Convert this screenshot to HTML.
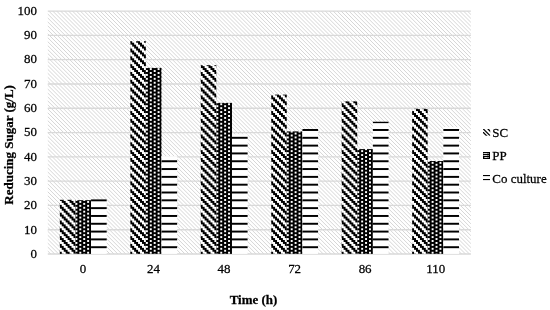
<!DOCTYPE html>
<html><head><meta charset="utf-8"><style>
html,body{margin:0;padding:0;background:#fff;width:550px;height:310px;overflow:hidden}
svg{display:block}
text{font-family:"Liberation Serif","Times New Roman",serif;font-size:13.3px;fill:#000;stroke:#000;stroke-width:0.25px}
</style></head><body>
<svg width="550" height="310" viewBox="0 0 550 310">
<defs>
<pattern id="pSC" patternUnits="userSpaceOnUse" x="0" y="0" width="4" height="4">
<rect width="4" height="4" fill="#fff"/>
<path d="M0 0h1v1h-1zM1 0h1v1h-1zM1 1h1v1h-1zM2 1h1v1h-1zM2 2h1v1h-1zM3 2h1v1h-1zM3 3h1v1h-1zM0 3h1v1h-1z" fill="#000"/>
</pattern>
<pattern id="pPP" patternUnits="userSpaceOnUse" x="0" y="0" width="4" height="2">
<rect width="4" height="2" fill="#000"/>
<path d="M0 0h1v1h-1zM2 1h1v1h-1z" fill="#fff"/>
</pattern>
<pattern id="pCO" patternUnits="userSpaceOnUse" x="0" y="0" width="4" height="4">
<rect width="4" height="4" fill="#fff"/>
<rect width="4" height="1" fill="#000"/>
</pattern>
</defs>
<clipPath id="cpl"><rect x="47.8" y="11.1" width="423.10" height="242.90"/></clipPath>
<g clip-path="url(#cpl)" stroke="#d1d1d1" stroke-width="0.9"><line x1="-197.10" y1="10.10" x2="47.80" y2="255.00"/><line x1="-193.15" y1="10.10" x2="51.75" y2="255.00"/><line x1="-189.20" y1="10.10" x2="55.70" y2="255.00"/><line x1="-185.25" y1="10.10" x2="59.65" y2="255.00"/><line x1="-181.30" y1="10.10" x2="63.60" y2="255.00"/><line x1="-177.35" y1="10.10" x2="67.55" y2="255.00"/><line x1="-173.40" y1="10.10" x2="71.50" y2="255.00"/><line x1="-169.45" y1="10.10" x2="75.45" y2="255.00"/><line x1="-165.50" y1="10.10" x2="79.40" y2="255.00"/><line x1="-161.55" y1="10.10" x2="83.35" y2="255.00"/><line x1="-157.60" y1="10.10" x2="87.30" y2="255.00"/><line x1="-153.65" y1="10.10" x2="91.25" y2="255.00"/><line x1="-149.70" y1="10.10" x2="95.20" y2="255.00"/><line x1="-145.75" y1="10.10" x2="99.15" y2="255.00"/><line x1="-141.80" y1="10.10" x2="103.10" y2="255.00"/><line x1="-137.85" y1="10.10" x2="107.05" y2="255.00"/><line x1="-133.90" y1="10.10" x2="111.00" y2="255.00"/><line x1="-129.95" y1="10.10" x2="114.95" y2="255.00"/><line x1="-126.00" y1="10.10" x2="118.90" y2="255.00"/><line x1="-122.05" y1="10.10" x2="122.85" y2="255.00"/><line x1="-118.10" y1="10.10" x2="126.80" y2="255.00"/><line x1="-114.15" y1="10.10" x2="130.75" y2="255.00"/><line x1="-110.20" y1="10.10" x2="134.70" y2="255.00"/><line x1="-106.25" y1="10.10" x2="138.65" y2="255.00"/><line x1="-102.30" y1="10.10" x2="142.60" y2="255.00"/><line x1="-98.35" y1="10.10" x2="146.55" y2="255.00"/><line x1="-94.40" y1="10.10" x2="150.50" y2="255.00"/><line x1="-90.45" y1="10.10" x2="154.45" y2="255.00"/><line x1="-86.50" y1="10.10" x2="158.40" y2="255.00"/><line x1="-82.55" y1="10.10" x2="162.35" y2="255.00"/><line x1="-78.60" y1="10.10" x2="166.30" y2="255.00"/><line x1="-74.65" y1="10.10" x2="170.25" y2="255.00"/><line x1="-70.70" y1="10.10" x2="174.20" y2="255.00"/><line x1="-66.75" y1="10.10" x2="178.15" y2="255.00"/><line x1="-62.80" y1="10.10" x2="182.10" y2="255.00"/><line x1="-58.85" y1="10.10" x2="186.05" y2="255.00"/><line x1="-54.90" y1="10.10" x2="190.00" y2="255.00"/><line x1="-50.95" y1="10.10" x2="193.95" y2="255.00"/><line x1="-47.00" y1="10.10" x2="197.90" y2="255.00"/><line x1="-43.05" y1="10.10" x2="201.85" y2="255.00"/><line x1="-39.10" y1="10.10" x2="205.80" y2="255.00"/><line x1="-35.15" y1="10.10" x2="209.75" y2="255.00"/><line x1="-31.20" y1="10.10" x2="213.70" y2="255.00"/><line x1="-27.25" y1="10.10" x2="217.65" y2="255.00"/><line x1="-23.30" y1="10.10" x2="221.60" y2="255.00"/><line x1="-19.35" y1="10.10" x2="225.55" y2="255.00"/><line x1="-15.40" y1="10.10" x2="229.50" y2="255.00"/><line x1="-11.45" y1="10.10" x2="233.45" y2="255.00"/><line x1="-7.50" y1="10.10" x2="237.40" y2="255.00"/><line x1="-3.55" y1="10.10" x2="241.35" y2="255.00"/><line x1="0.40" y1="10.10" x2="245.30" y2="255.00"/><line x1="4.35" y1="10.10" x2="249.25" y2="255.00"/><line x1="8.30" y1="10.10" x2="253.20" y2="255.00"/><line x1="12.25" y1="10.10" x2="257.15" y2="255.00"/><line x1="16.20" y1="10.10" x2="261.10" y2="255.00"/><line x1="20.15" y1="10.10" x2="265.05" y2="255.00"/><line x1="24.10" y1="10.10" x2="269.00" y2="255.00"/><line x1="28.05" y1="10.10" x2="272.95" y2="255.00"/><line x1="32.00" y1="10.10" x2="276.90" y2="255.00"/><line x1="35.95" y1="10.10" x2="280.85" y2="255.00"/><line x1="39.90" y1="10.10" x2="284.80" y2="255.00"/><line x1="43.85" y1="10.10" x2="288.75" y2="255.00"/><line x1="47.80" y1="10.10" x2="292.70" y2="255.00"/><line x1="51.75" y1="10.10" x2="296.65" y2="255.00"/><line x1="55.70" y1="10.10" x2="300.60" y2="255.00"/><line x1="59.65" y1="10.10" x2="304.55" y2="255.00"/><line x1="63.60" y1="10.10" x2="308.50" y2="255.00"/><line x1="67.55" y1="10.10" x2="312.45" y2="255.00"/><line x1="71.50" y1="10.10" x2="316.40" y2="255.00"/><line x1="75.45" y1="10.10" x2="320.35" y2="255.00"/><line x1="79.40" y1="10.10" x2="324.30" y2="255.00"/><line x1="83.35" y1="10.10" x2="328.25" y2="255.00"/><line x1="87.30" y1="10.10" x2="332.20" y2="255.00"/><line x1="91.25" y1="10.10" x2="336.15" y2="255.00"/><line x1="95.20" y1="10.10" x2="340.10" y2="255.00"/><line x1="99.15" y1="10.10" x2="344.05" y2="255.00"/><line x1="103.10" y1="10.10" x2="348.00" y2="255.00"/><line x1="107.05" y1="10.10" x2="351.95" y2="255.00"/><line x1="111.00" y1="10.10" x2="355.90" y2="255.00"/><line x1="114.95" y1="10.10" x2="359.85" y2="255.00"/><line x1="118.90" y1="10.10" x2="363.80" y2="255.00"/><line x1="122.85" y1="10.10" x2="367.75" y2="255.00"/><line x1="126.80" y1="10.10" x2="371.70" y2="255.00"/><line x1="130.75" y1="10.10" x2="375.65" y2="255.00"/><line x1="134.70" y1="10.10" x2="379.60" y2="255.00"/><line x1="138.65" y1="10.10" x2="383.55" y2="255.00"/><line x1="142.60" y1="10.10" x2="387.50" y2="255.00"/><line x1="146.55" y1="10.10" x2="391.45" y2="255.00"/><line x1="150.50" y1="10.10" x2="395.40" y2="255.00"/><line x1="154.45" y1="10.10" x2="399.35" y2="255.00"/><line x1="158.40" y1="10.10" x2="403.30" y2="255.00"/><line x1="162.35" y1="10.10" x2="407.25" y2="255.00"/><line x1="166.30" y1="10.10" x2="411.20" y2="255.00"/><line x1="170.25" y1="10.10" x2="415.15" y2="255.00"/><line x1="174.20" y1="10.10" x2="419.10" y2="255.00"/><line x1="178.15" y1="10.10" x2="423.05" y2="255.00"/><line x1="182.10" y1="10.10" x2="427.00" y2="255.00"/><line x1="186.05" y1="10.10" x2="430.95" y2="255.00"/><line x1="190.00" y1="10.10" x2="434.90" y2="255.00"/><line x1="193.95" y1="10.10" x2="438.85" y2="255.00"/><line x1="197.90" y1="10.10" x2="442.80" y2="255.00"/><line x1="201.85" y1="10.10" x2="446.75" y2="255.00"/><line x1="205.80" y1="10.10" x2="450.70" y2="255.00"/><line x1="209.75" y1="10.10" x2="454.65" y2="255.00"/><line x1="213.70" y1="10.10" x2="458.60" y2="255.00"/><line x1="217.65" y1="10.10" x2="462.55" y2="255.00"/><line x1="221.60" y1="10.10" x2="466.50" y2="255.00"/><line x1="225.55" y1="10.10" x2="470.45" y2="255.00"/><line x1="229.50" y1="10.10" x2="474.40" y2="255.00"/><line x1="233.45" y1="10.10" x2="478.35" y2="255.00"/><line x1="237.40" y1="10.10" x2="482.30" y2="255.00"/><line x1="241.35" y1="10.10" x2="486.25" y2="255.00"/><line x1="245.30" y1="10.10" x2="490.20" y2="255.00"/><line x1="249.25" y1="10.10" x2="494.15" y2="255.00"/><line x1="253.20" y1="10.10" x2="498.10" y2="255.00"/><line x1="257.15" y1="10.10" x2="502.05" y2="255.00"/><line x1="261.10" y1="10.10" x2="506.00" y2="255.00"/><line x1="265.05" y1="10.10" x2="509.95" y2="255.00"/><line x1="269.00" y1="10.10" x2="513.90" y2="255.00"/><line x1="272.95" y1="10.10" x2="517.85" y2="255.00"/><line x1="276.90" y1="10.10" x2="521.80" y2="255.00"/><line x1="280.85" y1="10.10" x2="525.75" y2="255.00"/><line x1="284.80" y1="10.10" x2="529.70" y2="255.00"/><line x1="288.75" y1="10.10" x2="533.65" y2="255.00"/><line x1="292.70" y1="10.10" x2="537.60" y2="255.00"/><line x1="296.65" y1="10.10" x2="541.55" y2="255.00"/><line x1="300.60" y1="10.10" x2="545.50" y2="255.00"/><line x1="304.55" y1="10.10" x2="549.45" y2="255.00"/><line x1="308.50" y1="10.10" x2="553.40" y2="255.00"/><line x1="312.45" y1="10.10" x2="557.35" y2="255.00"/><line x1="316.40" y1="10.10" x2="561.30" y2="255.00"/><line x1="320.35" y1="10.10" x2="565.25" y2="255.00"/><line x1="324.30" y1="10.10" x2="569.20" y2="255.00"/><line x1="328.25" y1="10.10" x2="573.15" y2="255.00"/><line x1="332.20" y1="10.10" x2="577.10" y2="255.00"/><line x1="336.15" y1="10.10" x2="581.05" y2="255.00"/><line x1="340.10" y1="10.10" x2="585.00" y2="255.00"/><line x1="344.05" y1="10.10" x2="588.95" y2="255.00"/><line x1="348.00" y1="10.10" x2="592.90" y2="255.00"/><line x1="351.95" y1="10.10" x2="596.85" y2="255.00"/><line x1="355.90" y1="10.10" x2="600.80" y2="255.00"/><line x1="359.85" y1="10.10" x2="604.75" y2="255.00"/><line x1="363.80" y1="10.10" x2="608.70" y2="255.00"/><line x1="367.75" y1="10.10" x2="612.65" y2="255.00"/><line x1="371.70" y1="10.10" x2="616.60" y2="255.00"/><line x1="375.65" y1="10.10" x2="620.55" y2="255.00"/><line x1="379.60" y1="10.10" x2="624.50" y2="255.00"/><line x1="383.55" y1="10.10" x2="628.45" y2="255.00"/><line x1="387.50" y1="10.10" x2="632.40" y2="255.00"/><line x1="391.45" y1="10.10" x2="636.35" y2="255.00"/><line x1="395.40" y1="10.10" x2="640.30" y2="255.00"/><line x1="399.35" y1="10.10" x2="644.25" y2="255.00"/><line x1="403.30" y1="10.10" x2="648.20" y2="255.00"/><line x1="407.25" y1="10.10" x2="652.15" y2="255.00"/><line x1="411.20" y1="10.10" x2="656.10" y2="255.00"/><line x1="415.15" y1="10.10" x2="660.05" y2="255.00"/><line x1="419.10" y1="10.10" x2="664.00" y2="255.00"/><line x1="423.05" y1="10.10" x2="667.95" y2="255.00"/><line x1="427.00" y1="10.10" x2="671.90" y2="255.00"/><line x1="430.95" y1="10.10" x2="675.85" y2="255.00"/><line x1="434.90" y1="10.10" x2="679.80" y2="255.00"/><line x1="438.85" y1="10.10" x2="683.75" y2="255.00"/><line x1="442.80" y1="10.10" x2="687.70" y2="255.00"/><line x1="446.75" y1="10.10" x2="691.65" y2="255.00"/><line x1="450.70" y1="10.10" x2="695.60" y2="255.00"/><line x1="454.65" y1="10.10" x2="699.55" y2="255.00"/><line x1="458.60" y1="10.10" x2="703.50" y2="255.00"/><line x1="462.55" y1="10.10" x2="707.45" y2="255.00"/><line x1="466.50" y1="10.10" x2="711.40" y2="255.00"/><line x1="470.45" y1="10.10" x2="715.35" y2="255.00"/></g>
<g stroke="#d9d9d9" stroke-width="1.35">
<line x1="47.8" x2="470.9" y1="254.00" y2="254.00"/><line x1="47.8" x2="470.9" y1="229.71" y2="229.71"/><line x1="47.8" x2="470.9" y1="205.42" y2="205.42"/><line x1="47.8" x2="470.9" y1="181.13" y2="181.13"/><line x1="47.8" x2="470.9" y1="156.84" y2="156.84"/><line x1="47.8" x2="470.9" y1="132.55" y2="132.55"/><line x1="47.8" x2="470.9" y1="108.26" y2="108.26"/><line x1="47.8" x2="470.9" y1="83.97" y2="83.97"/><line x1="47.8" x2="470.9" y1="59.68" y2="59.68"/><line x1="47.8" x2="470.9" y1="35.39" y2="35.39"/><line x1="47.8" x2="470.9" y1="11.10" y2="11.10"/>
</g>
<g>
<g transform="translate(59.80,253.70) scale(1.9538)"><rect y="-27.587" width="8.000" height="27.690" fill="url(#pSC)"/></g><g transform="translate(75.43,253.70) scale(1.9538)"><rect y="-27.383" width="8.000" height="27.485" fill="url(#pPP)"/></g><g transform="translate(91.06,254.05) scale(1.9538)"><rect y="-28.125" width="8.000" height="28.048" fill="url(#pCO)"/></g><g transform="translate(130.26,253.70) scale(1.9538)"><rect y="-108.762" width="8.000" height="108.865" fill="url(#pSC)"/></g><g transform="translate(145.89,253.70) scale(1.9538)"><rect y="-95.097" width="8.000" height="95.199" fill="url(#pPP)"/></g><g transform="translate(161.52,254.05) scale(1.9538)"><rect y="-50.082" width="8.000" height="50.005" fill="url(#pCO)"/></g><g transform="translate(200.72,253.70) scale(1.9538)"><rect y="-96.479" width="8.000" height="96.581" fill="url(#pSC)"/></g><g transform="translate(216.35,253.70) scale(1.9538)"><rect y="-77.183" width="8.000" height="77.285" fill="url(#pPP)"/></g><g transform="translate(231.98,254.05) scale(1.9538)"><rect y="-61.342" width="8.000" height="61.265" fill="url(#pCO)"/></g><g transform="translate(271.18,253.70) scale(1.9538)"><rect y="-81.431" width="8.000" height="81.533" fill="url(#pSC)"/></g><g transform="translate(286.81,253.70) scale(1.9538)"><rect y="-62.596" width="8.000" height="62.698" fill="url(#pPP)"/></g><g transform="translate(302.44,254.05) scale(1.9538)"><rect y="-64.157" width="8.000" height="64.080" fill="url(#pCO)"/></g><g transform="translate(341.64,253.70) scale(1.9538)"><rect y="-78.002" width="8.000" height="78.104" fill="url(#pSC)"/></g><g transform="translate(357.27,253.70) scale(1.9538)"><rect y="-53.537" width="8.000" height="53.639" fill="url(#pPP)"/></g><g transform="translate(372.90,254.05) scale(1.9538)"><rect y="-67.740" width="8.000" height="67.663" fill="url(#pCO)"/></g><g transform="translate(412.10,253.70) scale(1.9538)"><rect y="-74.163" width="8.000" height="74.266" fill="url(#pSC)"/></g><g transform="translate(427.73,253.70) scale(1.9538)"><rect y="-47.446" width="8.000" height="47.548" fill="url(#pPP)"/></g><g transform="translate(443.36,254.05) scale(1.9538)"><rect y="-64.925" width="8.000" height="64.848" fill="url(#pCO)"/></g>
</g>
<g>
<text transform="translate(37.00,257.80) scale(0.975,1)" text-anchor="end">0</text><text transform="translate(37.00,233.51) scale(0.975,1)" text-anchor="end">10</text><text transform="translate(37.00,209.22) scale(0.975,1)" text-anchor="end">20</text><text transform="translate(37.00,184.93) scale(0.975,1)" text-anchor="end">30</text><text transform="translate(37.00,160.64) scale(0.975,1)" text-anchor="end">40</text><text transform="translate(37.00,136.35) scale(0.975,1)" text-anchor="end">50</text><text transform="translate(37.00,112.06) scale(0.975,1)" text-anchor="end">60</text><text transform="translate(37.00,87.77) scale(0.975,1)" text-anchor="end">70</text><text transform="translate(37.00,63.48) scale(0.975,1)" text-anchor="end">80</text><text transform="translate(37.00,39.19) scale(0.975,1)" text-anchor="end">90</text><text transform="translate(37.00,14.90) scale(0.975,1)" text-anchor="end">100</text>
<text transform="translate(83.06,273.40) scale(0.975,1)" text-anchor="middle">0</text><text transform="translate(153.57,273.40) scale(0.975,1)" text-anchor="middle">24</text><text transform="translate(224.09,273.40) scale(0.975,1)" text-anchor="middle">48</text><text transform="translate(294.61,273.40) scale(0.975,1)" text-anchor="middle">72</text><text transform="translate(365.12,273.40) scale(0.975,1)" text-anchor="middle">86</text><text transform="translate(435.64,273.40) scale(0.975,1)" text-anchor="middle">110</text>
</g>
<text transform="translate(253.50,303.60) scale(0.975,1)" text-anchor="middle" font-weight="bold">Time (h)</text>
<text transform="translate(13.4,144.9) rotate(-90)" text-anchor="middle" font-weight="bold" style="font-size:13px">Reducing Sugar (g/L)</text>
<g>
<clipPath id="cpsc"><rect x="483" y="129" width="7.2" height="6.8"/></clipPath>
<g clip-path="url(#cpsc)" stroke="#000" stroke-width="1.25"><line x1="481" y1="130.2" x2="489" y2="138.2"/><line x1="481" y1="126.6" x2="492" y2="137.6"/><line x1="486" y1="127" x2="493" y2="134"/></g>
<rect x="483" y="152" width="7" height="7" fill="#000"/>
<path d="M483 153h6v1h-6zM483 155h6v1h-6zM484 157h5v1h-5z" fill="#fff" fill-opacity="0.55"/>
<path d="M484 153h3v1h-3zM484 155h3v1h-3zM485 157h2v1h-2z" fill="#fff" fill-opacity="0.6"/>
<rect x="483" y="175" width="7" height="1.1" fill="#000"/>
<rect x="483" y="179" width="7" height="1.1" fill="#000"/>
</g>
<text transform="translate(492.30,137.20) scale(0.975,1)">SC</text>
<text transform="translate(492.30,160.20) scale(0.975,1)">PP</text>
<text transform="translate(492.30,183.00) scale(0.975,1)">Co culture</text>
</svg>
</body></html>
